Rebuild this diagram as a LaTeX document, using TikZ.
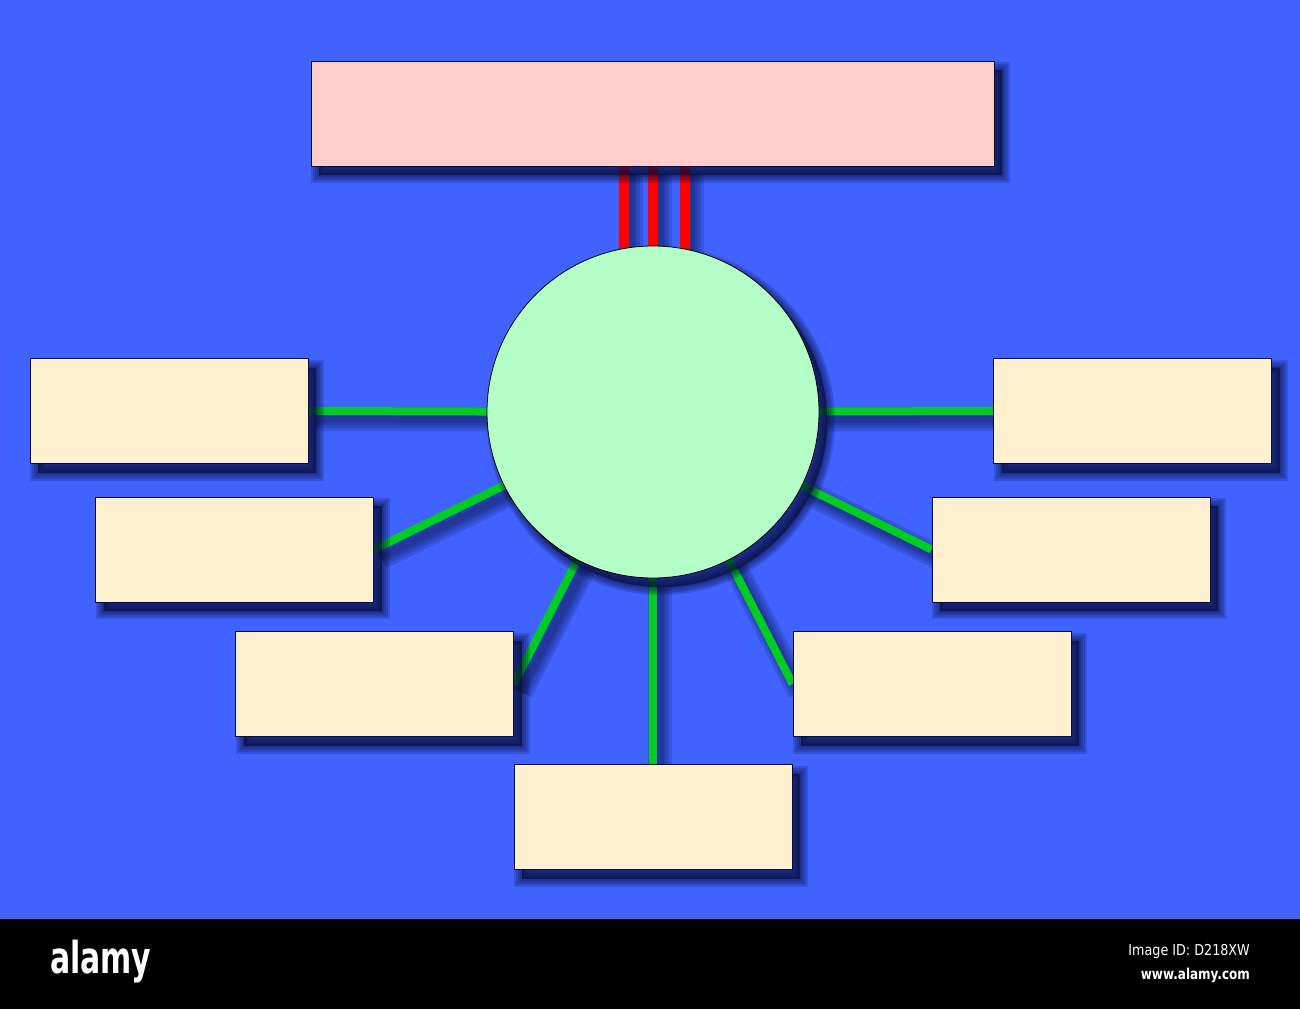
\documentclass[tikz,border=0pt]{standalone}
\usepackage{fontspec}
\setmainfont{DejaVu Sans}
\pgfdeclarelayer{bottom}
\pgfdeclarelayer{lines}
\pgfsetlayers{bottom,lines,main}
\definecolor{bgblue}{RGB}{64,98,255}
\definecolor{pinkfill}{RGB}{255,204,204}
\definecolor{creamfill}{RGB}{255,240,208}
\definecolor{mintfill}{RGB}{180,255,200}
\definecolor{linkgreen}{RGB}{0,204,34}
\definecolor{linkred}{RGB}{255,0,0}
\definecolor{shadenavy}{RGB}{8,14,60}
\tikzset{
  shadlayer/.style={preaction={draw=shadenavy, fill=shadenavy, line width=#1, opacity=0.18, transform canvas={shift={(8pt,-9pt)}}}},
  shad/.style={shadlayer=16pt, shadlayer=12pt, shadlayer=8pt, shadlayer=4pt, shadlayer=0.5pt},
  cbox/.style={draw=shadenavy, line width=0.8pt, fill=creamfill, minimum width=278pt, minimum height=105pt, inner sep=0pt, shad},
  topbox/.style={draw=shadenavy, line width=0.8pt, fill=pinkfill, minimum width=683pt, minimum height=105pt, inner sep=0pt, shad},
  hub/.style={circle, draw=black, line width=0.8pt, fill=mintfill, minimum size=332pt, inner sep=0pt, shad},
  glink/.style={draw=linkgreen, line width=8pt},
  rlink/.style={draw=linkred, line width=9.5pt},
  lshadlayer/.style={draw=shadenavy, opacity=0.16, line width=#1, transform canvas={shift={(7pt,-8pt)}}},
  lshad/.style={preaction={lshadlayer=24pt}, preaction={lshadlayer=18pt}, preaction={lshadlayer=12pt}, lshadlayer=7pt},
  bandtext/.style={text=white, inner sep=0pt}
}
\begin{document}
\begin{tikzpicture}[x=1pt,y=-1pt]
\useasboundingbox (0,0) rectangle (1300,1009);
\begin{pgfonlayer}{bottom}
  \fill[bgblue] (0,0) rectangle (1300,919);
  \fill[black] (0,919) rectangle (1300,1009);
\end{pgfonlayer}
% nodes
\node[topbox] (top) at (652.5,113.5) {};
\node[hub] (c) at (653,412) {};
\node[cbox] (l1) at (169,411) {};
\node[cbox] (l2) at (234.5,549.5) {};
\node[cbox] (l3) at (374.5,684) {};
\node[cbox] (bt) at (653,817) {};
\node[cbox] (r3) at (932,684) {};
\node[cbox] (r2) at (1071,549.5) {};
\node[cbox] (r1) at (1132.5,411) {};
% connectors
\begin{pgfonlayer}{lines}
  \foreach \s in {lshad,glink}{
    \draw[\s] (l1.east) -- (c);
    \draw[\s] (l2.east) -- (c);
    \draw[\s] (l3.east) -- (c);
    \draw[\s] (bt.north) -- (c);
    \draw[\s] (r3.west) -- (c);
    \draw[\s] (r2.west) -- (c);
    \draw[\s] (r1.west) -- (c);
  }
  \coordinate (ra) at (c.100.5);
  \coordinate (rb) at (c.north);
  \coordinate (rc) at (c.79.3);
  \foreach \s in {lshad,rlink}{
    \draw[\s] (ra) -- (ra |- top.south);
    \draw[\s] (rb) -- (rb |- top.south);
    \draw[\s] (rc) -- (rc |- top.south);
  }
\end{pgfonlayer}
% band texts
\node[bandtext, anchor=west, font=\bfseries\fontsize{44}{44}\selectfont, xscale=0.68] (logo) at (50,962) {alamy};
\node[bandtext, anchor=east, font=\fontsize{15}{15}\selectfont, xscale=0.85] (imgid) at (1250,951) {Image ID: D218XW};
\node[bandtext, anchor=east, font=\bfseries\fontsize{15}{15}\selectfont, xscale=0.8] (www) at (1250,975) {www.alamy.com};
\end{tikzpicture}
\end{document}
